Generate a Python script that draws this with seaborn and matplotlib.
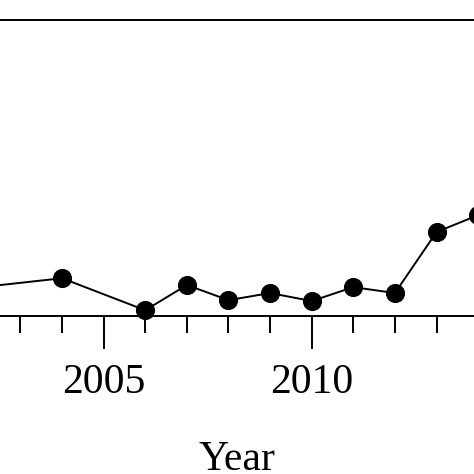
import matplotlib
matplotlib.use("Agg")
import matplotlib.pyplot as plt
import seaborn as sns
import pandas as pd
from matplotlib.ticker import MultipleLocator

years = [2002, 2004, 2006, 2007, 2008, 2009, 2010, 2011, 2012, 2013, 2014]
values = [0.97, 1.28, 0.20, 1.05, 0.54, 0.78, 0.51, 0.98, 0.78, 2.84, 3.41]
df = pd.DataFrame({"Year": years, "Value": values})

sns.set_style("ticks")
plt.rcParams['font.family'] = ['Liberation Serif', 'DejaVu Serif']
plt.rcParams['text.color'] = 'black'
plt.rcParams['xtick.color'] = 'black'
plt.rcParams['axes.labelcolor'] = 'black'

fig = plt.figure(figsize=(4.74, 4.74), dpi=100)
ax = fig.add_axes([0.0, 0.333, 1.0, 0.625])
sns.lineplot(data=df, x="Year", y="Value", ax=ax, color="black", lw=1.4,
             marker="o", markersize=13, markeredgecolor="black", clip_on=False)
ax.set_xlim(2002.51, 2013.9)
ax.set_ylim(0, 10)
ax.xaxis.set_major_locator(MultipleLocator(5))
ax.xaxis.set_minor_locator(MultipleLocator(1))
ax.tick_params(axis="x", which="major", length=24, width=1.4, labelsize=30, pad=10)
ax.tick_params(axis="x", which="minor", length=12, width=1.4)
ax.set_yticks([])
ax.set_ylabel("")
ax.set_xlabel("Year", fontsize=30, labelpad=28)
ax.spines["right"].set_visible(False)
ax.spines["left"].set_visible(False)
for s in ax.spines.values():
    s.set_linewidth(1.4)
    s.set_color("black")
fig.savefig("out.png", dpi=100)
